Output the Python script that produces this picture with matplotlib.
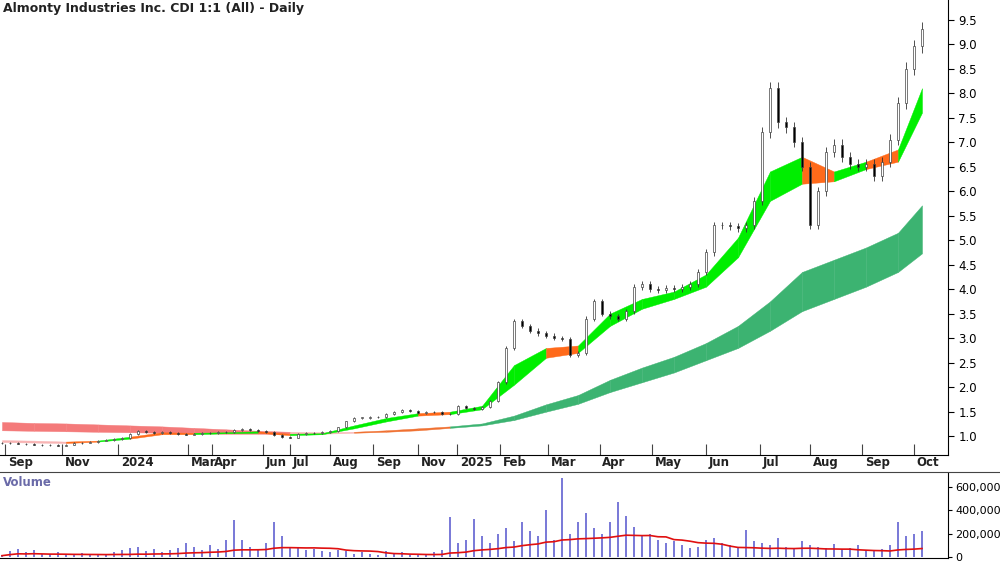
import matplotlib
matplotlib.use("Agg")
import matplotlib.pyplot as plt
import numpy as np
import pandas as pd

closes = [0.86,0.86,0.85,0.84,0.83,0.82,0.82,0.81,0.83,0.86,0.87,0.88,0.91,0.92,0.94,0.96,1.05,1.10,1.09,1.07,
          1.08,1.06,1.05,1.03,1.05,1.06,1.07,1.08,1.09,1.12,1.14,1.12,1.10,1.08,1.02,0.98,0.97,1.05,1.06,1.07,
          1.08,1.10,1.18,1.30,1.38,1.38,1.40,1.39,1.45,1.50,1.53,1.52,1.48,1.50,1.49,1.46,1.45,1.62,1.58,1.56,
          1.60,1.72,2.10,2.80,3.35,3.25,3.15,3.10,3.05,3.00,2.98,2.65,2.70,3.40,3.75,3.50,3.45,3.40,3.55,4.05,
          4.10,4.00,3.98,4.02,4.00,4.05,4.10,4.35,4.75,5.30,5.30,5.28,5.25,5.30,5.80,7.20,8.10,7.40,7.30,7.00,
          6.50,5.30,6.00,6.80,6.95,6.70,6.55,6.50,6.55,6.30,6.60,7.05,7.80,8.50,8.95,9.30]
volume_k = [20,50,70,40,60,30,25,40,30,20,35,25,30,20,40,
            60,80,90,50,70,40,60,80,120,90,60,100,70,150,320,
            150,90,60,120,300,180,80,90,60,70,50,40,60,50,30,
            40,30,20,50,30,40,20,30,25,40,60,340,120,150,330,
            180,120,200,250,140,300,220,180,400,150,680,200,300,380,250,
            200,300,470,350,260,180,200,150,120,140,100,80,90,150,160,
            120,100,80,230,140,120,100,160,90,80,140,100,90,80,110,
            70,80,100,60,50,70,100,300,180,200,220]

band_idx = list(range(0, 113, 4)) + [115]
long_up = [1.29,1.27,1.26,1.24,1.22,1.20,1.17,1.14,1.11,1.09,1.08,1.09,1.12,1.16,1.20,1.26,1.42,1.65,1.84,2.15,
           2.40,2.62,2.90,3.25,3.75,4.35,4.60,4.85,5.15,5.71]
long_lo = [1.12,1.11,1.10,1.09,1.08,1.07,1.06,1.05,1.05,1.05,1.05,1.07,1.09,1.12,1.17,1.22,1.33,1.50,1.66,1.90,
           2.10,2.30,2.55,2.80,3.15,3.55,3.80,4.05,4.35,4.73]
long_col = ['r']*9 + ['p','p','o','o','o'] + ['g']*16
short_up = [0.92,0.91,0.89,0.91,0.99,1.08,1.07,1.08,1.10,1.05,1.06,1.22,1.37,1.47,1.50,1.62,2.45,2.80,2.85,3.50,
            3.80,3.95,4.30,5.05,6.40,6.70,6.40,6.60,6.85,8.10]
short_lo = [0.88,0.87,0.86,0.89,0.95,1.04,1.04,1.06,1.07,1.02,1.04,1.16,1.30,1.42,1.45,1.55,2.05,2.60,2.70,3.25,
            3.60,3.80,4.05,4.65,5.80,6.15,6.20,6.45,6.60,7.60]
short_col = ['p','p','o','g','o','o','g','g','o','g','g','g','g','o','g','g','g','o','g','g',
             'g','g','g','g','g','o','g','o','g','g']

month_labels = ["Sep","Nov","2024","Mar","Apr","Jun","Jul","Aug","Sep","Nov","2025","Feb","Mar","Apr","May","Jun","Jul","Aug","Sep","Oct"]
month_pos = [0.4,7.5,14.5,23.2,26.2,32.6,36,41,46.4,52,56.9,62.2,68.2,74.7,81.2,88,94.7,101,107.5,114]

long_colors = {'r':'#f47a7a','p':'#f8b4b4','o':'#f07030','g':'#3cb371'}
short_colors = {'r':'#f47a7a','p':'#f8b4b4','o':'#ff6a1a','g':'#00ee00'}

fig = plt.figure(figsize=(10, 5.62), dpi=100)
ax = fig.add_axes([0, 0.190, 0.948, 0.810])
axv = fig.add_axes([0, 0.007, 0.948, 0.151])

for up, lo, cols, cmap in [(long_up, long_lo, long_col, long_colors), (short_up, short_lo, short_col, short_colors)]:
    for k in range(len(band_idx) - 1):
        xs = [band_idx[k], band_idx[k+1]]
        ax.fill_between(xs, [lo[k], lo[k+1]], [up[k], up[k+1]], color=cmap[cols[k]], lw=0.3, edgecolor=cmap[cols[k]])

x = np.arange(len(closes))
opens = [closes[0]] + closes[:-1]
for i in x:
    o, c = opens[i], closes[i]
    hi = max(o, c) * 1.015
    lo = min(o, c) * 0.985
    ax.vlines(i, lo, hi, color='#333333', lw=0.6, zorder=3)
    h = max(abs(c - o), 0.01)
    fc = 'white' if c >= o else 'black'
    ax.bar(i, h, bottom=min(o, c), width=0.3, facecolor=fc, edgecolor='#444444', lw=0.5, zorder=4)

ax.set_xlim(-0.25, 118.25)
ax.set_ylim(0.612, 9.898)
ax.yaxis.tick_right()
ax.set_yticks(np.arange(1.0, 9.51, 0.5))
ax.set_yticklabels([f"{v:.1f}" for v in np.arange(1.0, 9.51, 0.5)], fontsize=8.5)
ax.set_xticks(month_pos)
ax.set_xticklabels([])
ax.tick_params(axis='x', direction='in', length=8, color='#444444')
ax.tick_params(axis='y', length=4)
for p, lab in zip(month_pos, month_labels):
    ax.text(p + 0.35, 0.60, lab, fontsize=8.5, fontweight='bold', va='top', ha='left', color='#222222')
for s in ['top', 'left']:
    ax.spines[s].set_visible(False)
ax.text(0.003, 0.995, "Almonty Industries Inc. CDI 1:1 (All) - Daily", transform=ax.transAxes,
        fontsize=9, fontweight='bold', va='top', ha='left', color='#222222')

vol = np.array(volume_k) * 1000
axv.bar(x, vol, width=0.25, color='#7b7bd8')
ma = pd.Series(vol).rolling(14, min_periods=1).mean() * 0.6
axv.plot(x, ma, color='#e01010', lw=1.2)
axv.set_xlim(-0.25, 118.25)
axv.set_ylim(-8580, 720000)
axv.yaxis.tick_right()
axv.set_yticks([0, 200000, 400000, 600000])
axv.set_yticklabels(["0", "200,000", "400,000", "600,000"], fontsize=8)
axv.tick_params(axis='y', length=3, pad=2)
axv.set_xticks([])
for s in ['top', 'left']:
    axv.spines[s].set_visible(False)
axv.text(0.003, 0.97, "Volume", transform=axv.transAxes, fontsize=8.5, fontweight='bold',
         va='top', ha='left', color='#6a6aa8')
fig.add_artist(plt.Line2D([0, 1], [0.160, 0.160], color='#444444', lw=0.8))

fig.savefig("out.png", dpi=100)
